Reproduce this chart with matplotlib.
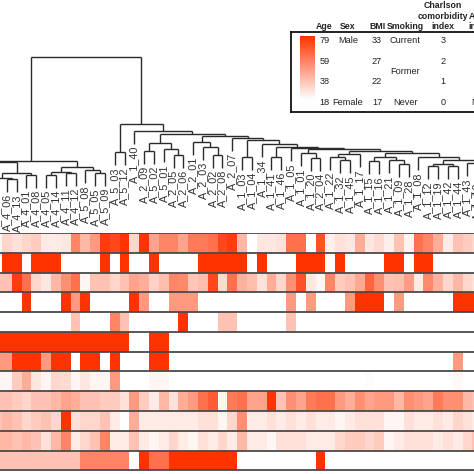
import numpy as np
import matplotlib
matplotlib.use('Agg')
import matplotlib.pyplot as plt
from matplotlib.colors import LinearSegmentedColormap

plt.rcParams['font.family'] = ['Liberation Sans', 'DejaVu Sans']

# leaf order left to right; the first 7 are cut off at the left edge, the last 2 at the right
samples = ['A_4_02', 'A_4_03', 'A_4_04', 'A_4_07', 'A_4_15', 'A_4_09', 'A_4_10',
           'A_4_06', 'A_4_13', 'A_4_01', 'A_4_08', 'A_4_05', 'A_4_14', 'A_4_11', 'A_4_12',
           'A_5_08', 'A_5_05', 'A_5_09', 'A_5_03', 'A_5_12', 'A_1_40', 'A_2_09', 'A_5_02',
           'A_5_01', 'A_2_05', 'A_2_06', 'A_2_01', 'A_2_03', 'A_2_02', 'A_2_08', 'A_2_07',
           'A_1_03', 'A_1_04', 'A_1_34', 'A_1_41', 'A_1_46', 'A_1_05', 'A_1_01', 'A_1_20',
           'A_2_04', 'A_1_22', 'A_1_32', 'A_1_45', 'A_1_17', 'A_1_15', 'A_1_16', 'A_1_21',
           'A_1_09', 'A_1_28', 'A_1_08', 'A_1_12', 'A_1_19', 'A_1_42', 'A_1_44', 'A_1_43',
           'A_1_10', 'A_1_11']
first_col = -7

# merge tree: (left, right, height)
grp_l0 = (('A_4_02', 'A_4_03', 1.4), ('A_4_04', ('A_4_07', 'A_4_15', 1.2), 1.3), 1.6)
grp_l1 = ((('A_4_09', 'A_4_10', 1.0), ('A_4_06', 'A_4_13', 1.1), 1.2),
          ('A_4_01', 'A_4_08', 1.5), 1.7)
grp_l2 = ((('A_4_05', 'A_4_14', 1.5), ('A_4_11', 'A_4_12', 1.7), 1.8),
          ('A_5_08', ('A_5_05', 'A_5_09', 1.7), 2.0), 2.3)
left_part = ((grp_l0, grp_l1, 2.8), grp_l2, 2.9)

grp_2a = (('A_2_09', 'A_5_02', 3.9), ('A_5_01', ('A_2_05', 'A_2_06', 3.5), 4.1), 4.7)
grp_2b = ('A_2_01', ('A_2_03', ('A_2_02', 'A_2_08', 3.5), 4.3), 4.83)
grp_ra = (('A_1_15', 'A_1_16', 2.9), ('A_1_21', ('A_1_09', 'A_1_28', 2.6), 3.0), 3.3)
grp_rc = ((('A_1_12', 'A_1_19', 2.4), ('A_1_42', 'A_1_44', 2.4), 2.6),
          ('A_1_43', ('A_1_10', 'A_1_11', 2.3), 2.7), 3.0)
grp_rb = ('A_1_08', grp_rc, 3.3)
grp_z5 = (('A_1_22', ('A_1_32', 'A_1_45', 3.0), 3.3), 'A_1_17', 3.6)
grp_z3 = (('A_1_01', ('A_1_20', 'A_2_04', 3.2), 3.7), (grp_z5, (grp_ra, grp_rb, 3.7), 3.95), 4.1)
grp_x = (('A_1_03', 'A_1_04', 3.3),
         ('A_1_34', (('A_1_41', 'A_1_46', 3.3), ('A_1_05', grp_z3, 4.2), 4.35), 4.6), 5.05)
grp_r5 = (grp_2b, ('A_2_07', grp_x, 5.25), 5.4)
right_part = (('A_5_03', 'A_5_12', 3.8), ('A_1_40', (grp_2a, grp_r5, 5.6), 5.9), 6.6)
tree = (left_part, right_part, 13.3)
hang = 1.3

# heatmap values (0-1), columns from the partly cut left column to the partly cut right one
heat_cols = samples[6:56]
row1 = [0.05, 0.2, 0.15, 0.2, 0.25, 0.1, 0.1, 0.12, 0.6, 0.35, 0.5, 0.95, 0.9, 1.0, 0.2, 1.0, 0.45,
        0.6, 0.6, 0.45, 0.65, 0.65, 0.7, 0.9, 0.95, 0.35, 0.0, 0.12, 0.12, 0.15, 0.7, 0.7, 0.0,
        0.85, 0.08, 0.15, 0.12, 0.4, 0.12, 0.18, 0.08, 0.3, 0.06, 0.7, 0.6, 0.4, 0.1, 0.3, 0.25, 0.2]
row2 = [0, 1, 1, 0, 1, 1, 1, 0, 0, 0, 0, 1, 0, 1, 0, 0, 1, 0, 0, 0, 0, 1, 1, 1, 1, 1, 0, 1, 0,
        0, 0, 1, 1, 1, 0, 1, 0, 0, 0, 0, 1, 1, 0, 1, 1, 0, 0, 0, 0, 0]
row3 = [0.3, 0.3, 0.95, 0.7, 0.2, 0.12, 0.35, 0.55, 0.7, 0.05, 0.3, 0.3, 0.2, 0.3, 0.45, 0.4,
        0.22, 0.32, 0.6, 0.58, 0.28, 0.32, 0.9, 0.18, 0.7, 0.38, 0.32, 0.15, 0.4, 0.2, 0.55, 0.85,
        0.12, 0.05, 0.6, 0.25, 0.3, 0.42, 0.75, 0.55, 0.3, 0.32, 0.48, 0.1, 0.58, 0.38, 0.2, 0.35,
        0.2, 0.15]
row4 = [0, 0, 0, 1, 0, 0, 0, 1, 0.5, 1, 0, 0, 0, 0, 1, 0.5, 0, 0, 0.5, 0.5, 0.5, 0, 0, 0, 0, 0,
        0, 0, 0, 0, 0.5, 0, 0.5, 0, 0, 0, 0.5, 1, 1, 1, 0, 0.5, 0, 0, 0, 0, 0, 1, 1, 1]
row5 = [0, 0, 0, 0, 0, 0, 0, 0, 0.3, 0, 0, 0, 0.6, 0.3, 0, 0, 0, 0, 0, 1, 0, 0, 0, 0.3, 0.3, 0,
        0, 0, 0, 0, 0.3, 0, 0, 0, 0, 0, 0, 0, 0, 0, 0, 0, 0, 0, 0, 0, 0, 0, 0, 0]
row6 = [1] * 14 + [0, 0, 1, 1] + [0] * 32
row7 = [0.5, 0.5, 1, 1, 1, 0.5, 1, 1, 0, 1, 1, 0, 1, 0, 0, 0, 1, 1] + [0] * 29 + [0.5, 0, 0]
row8 = [0.05, 0.05, 0.25, 0.4, 0.12, 0.05, 0.2, 0.18, 0.05, 0.12, 0.05, 0.05, 0.5, 0, 0, 0,
        0.05, 0.05, 0, 0, 0, 0, 0, 0, 0, 0, 0, 0, 0, 0, 0, 0, 0, 0, 0, 0, 0, 0, 0.02, 0, 0, 0, 0,
        0, 0, 0, 0, 0.03, 0, 0]
row9 = [0.3, 0.3, 0.25, 0.2, 0.3, 0.3, 0.35, 0.45, 0.4, 0.3, 0.3, 0.25, 0.25, 0.15, 0.5, 0.25,
        0.1, 0.35, 0.15, 0.4, 0.5, 0.7, 0.8, 0.05, 0.65, 0.7, 0.45, 0.45, 1.0, 0.3, 0.55, 0.45,
        0.65, 0.7, 0.7, 0.5, 0.4, 0.55, 0.45, 0.5, 0.5, 0.35, 0.55, 0.5, 0.45, 0.65, 0.55, 0.55,
        0.35, 0.3]
row10 = [0.3, 0.35, 0.3, 0.2, 0.25, 0.3, 0.2, 1.0, 0.15, 0.2, 0.2, 0.3, 0.1, 0.0, 0.4, 0.1, 0.1,
         0.1, 0.1, 0.1, 0.1, 0.15, 0.15, 0.05, 0.2, 0.55, 0.1, 0.1, 0.15, 0.1, 0.15, 0.1, 0.15,
         0.1, 0.1, 0.05, 0.1, 0.15, 0.15, 0.15, 0.05, 0.05, 0.15, 0.1, 0.1, 0.15, 0.1, 0.2, 0.15,
         0.1]
row11 = [0.35, 0.35, 0.3, 0.35, 0.3, 0.15, 0.35, 0.6, 0.1, 0.2, 0.3, 0.6, 0.1, 0.1, 0.3, 0.1,
         0.05, 0.1, 0.2, 0.1, 0.05, 0.15, 0.1, 0.2, 0.1, 0.35, 0.1, 0.1, 0.05, 0.15, 0.15, 0.15,
         0.1, 0.1, 0.1, 0.2, 0.25, 0.25, 0.2, 0.25, 0.05, 0.1, 0.15, 0.15, 0.15, 0.1, 0.15, 0.1,
         0.2, 0.3]
row12 = [0.3] * 9 + [0.6] * 5 + [0, 1, 0.7, 0.7] + [1] * 7 + [0] * 8 + [1] + [0] * 16
heat = np.array([row1, row2, row3, row4, row5, row6, row7, row8, row9, row10, row11, row12])

# legend
leg_headers = ['Age', 'Sex', 'BMI', 'Smoking', 'Charlson\ncomorbidity\nindex', 'Antibiotic\nintake']
leg_age = ['79', '59', '38', '18']
leg_sex = ['Male', '', '', 'Female']
leg_bmi = ['33', '27', '22', '17']
leg_smoking = ['Current', 'Former', 'Never']
leg_cci = ['3', '2', '1', '0']
leg_ab = ['', '', '', 'No']

red = '#ff3300'
cmap = LinearSegmentedColormap.from_list('wr', ['#ffffff', red])
W = 474.0

fig = plt.figure(figsize=(4.74, 4.74), dpi=100)

# column k centre sits at pixel 6.9 + 9.8 k
colw = 9.8
x0 = -6.9 / colw
x1 = (W - 6.9) / colw

# heatmap
hm = fig.add_axes([0, (W - 470.7) / W, 1, 238.0 / W])
xe = np.arange(len(heat_cols) + 1) - 1.5
ye = np.arange(heat.shape[0] + 1)
hm.pcolormesh(xe, ye, heat, cmap=cmap, vmin=0, vmax=1)
hm.hlines(ye, x0, x1, color='#4a4a4a', lw=1.3)
hm.set_xlim(x0, x1)
hm.set_ylim(heat.shape[0] + 0.02, -0.02)
hm.axis('off')

# dendrogram, y in height units (10 px per unit, 0 at pixel 190)
dn = fig.add_axes([0, 0, 1, 1], facecolor='none')
dn.set_xlim(x0, x1)
dn.set_ylim((190 - W) / 10, 19.0)
dn.axis('off')
pos = {s: i + first_col for i, s in enumerate(samples)}


def draw(node):
    if isinstance(node, str):
        return pos[node], None
    l, r, h = node
    xs = []
    for child in (l, r):
        x, hc = draw(child)
        if hc is None:
            bottom = h - hang
            dn.text(x, bottom - 0.2, child, rotation=90, ha='center', va='top',
                    fontsize=7.8, color='#333333')
        else:
            bottom = hc
        dn.plot([x, x], [bottom, h], color='#2a2a2a', lw=1.0, solid_capstyle='butt')
        xs.append(x)
    dn.plot(xs, [h, h], color='#2a2a2a', lw=1.0, solid_capstyle='butt')
    return sum(xs) / 2, h


draw(tree)

# legend box (pixel coordinates)
lg = fig.add_axes([291.3 / W, (W - 111.7) / W, (520 - 291.3) / W, 79.4 / W])
lg.set_xticks([])
lg.set_yticks([])
for sp in lg.spines.values():
    sp.set_linewidth(1.3)
    sp.set_color('#111111')
grad = np.linspace(1, 0, 100).reshape(-1, 1)
lg.imshow(grad, cmap=cmap, aspect='auto', extent=(300.3, 315.3, 100.5, 36.7))
lg.set_xlim(291.3, 520)
lg.set_ylim(111.7, 32.3)

rows_y = [40.7, 61.7, 81.7, 102.3]
col_x = [324.5, 348.0, 377.0, 405.3, 443.0, 468.5]
txt = dict(fontsize=6.6, color='#222222', va='center', clip_on=False)
for j, head in enumerate(leg_headers):
    lines = head.split('\n')
    align = 'left' if j == len(leg_headers) - 1 else 'center'
    for i, line in enumerate(reversed(lines)):
        lg.text(col_x[j], 26.7 - 10.4 * i, line, ha=align, fontweight='bold',
                **dict(txt, fontsize=6.3))
for i in range(4):
    lg.text(319.5, rows_y[i], leg_age[i], ha='left', **txt)
    lg.text(col_x[1], rows_y[i], leg_sex[i], ha='center', **txt)
    lg.text(col_x[2], rows_y[i], leg_bmi[i], ha='center', **txt)
    lg.text(col_x[4], rows_y[i], leg_cci[i], ha='center', **txt)
    lg.text(471.5, rows_y[i], leg_ab[i], ha='left', **txt)
for s, y in zip(leg_smoking, [rows_y[0], (rows_y[1] + rows_y[2]) / 2, rows_y[3]]):
    lg.text(col_x[3], y, s, ha='center', **txt)

fig.savefig('out.png', dpi=100, facecolor='white')
